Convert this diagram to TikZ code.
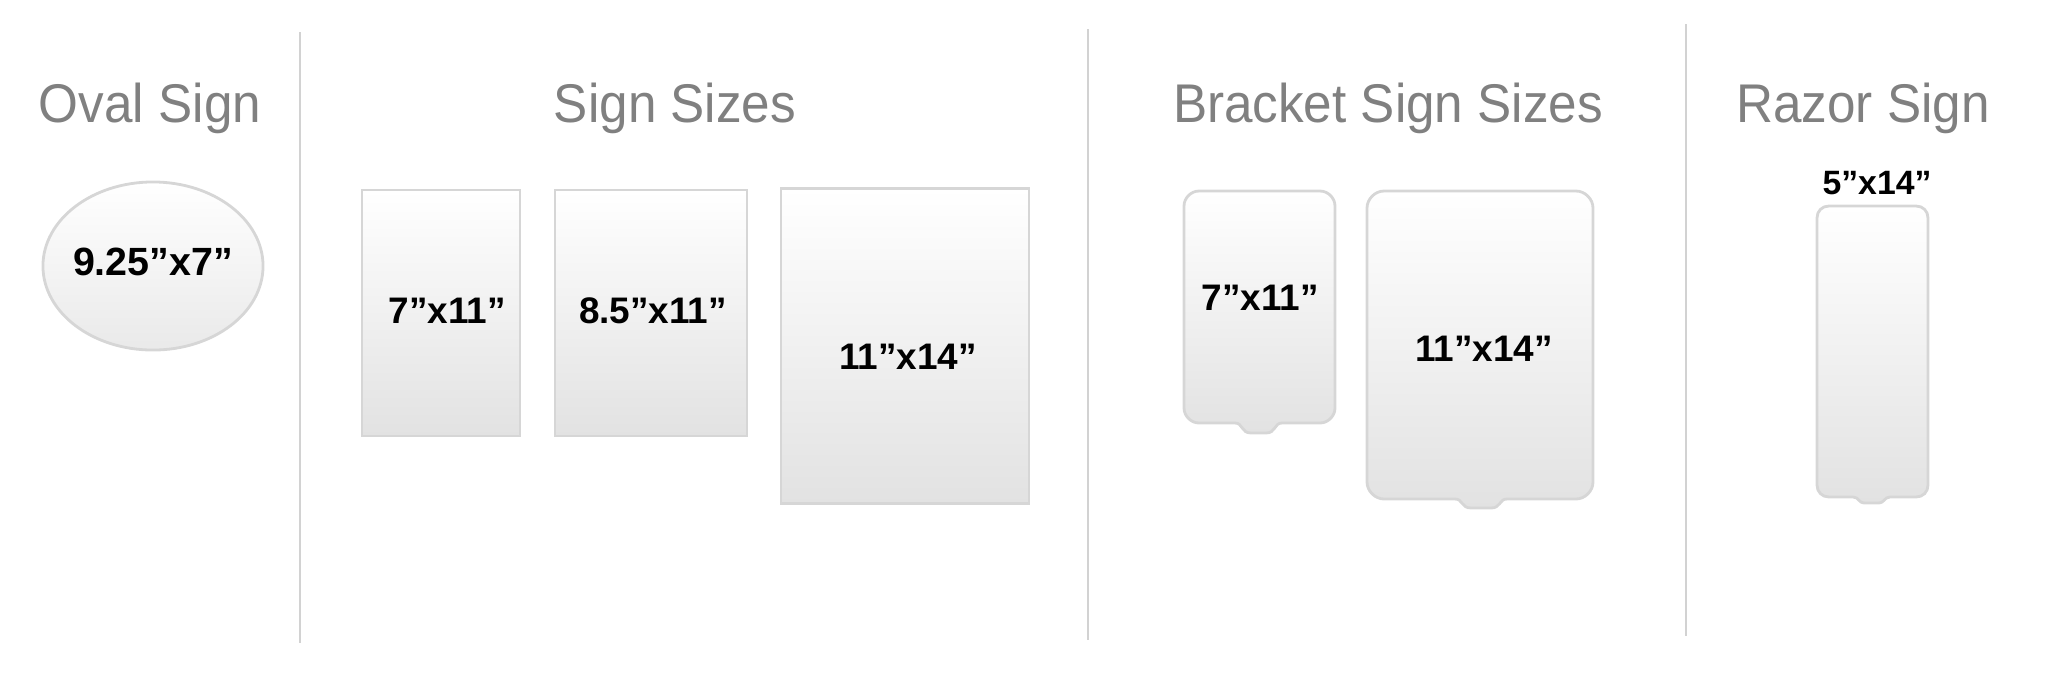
\documentclass[tikz,border=0pt]{standalone}
\usepackage{fontspec}
\usepackage{tikz}
\usetikzlibrary{shapes.geometric}
\setmainfont{Liberation Sans}
\newfontfamily\titlefont[FakeStretch=0.94]{Liberation Sans}
\definecolor{titlegray}{HTML}{808080}
\definecolor{signline}{HTML}{D6D6D6}
\definecolor{signfill}{HTML}{E2E2E2}
\definecolor{rulegray}{HTML}{D2D2D2}

\tikzset{
  signbox/.style={draw=signline, line width=.8pt, top color=white, bottom color=signfill},
  signtitle/.style={font=\titlefont\fontsize{15.5}{17}\selectfont, text=titlegray, anchor=base},
  signlabel/.style={font=\bfseries\fontsize{10.5}{12}\selectfont},
  divider/.style={draw=rulegray, line width=.6pt}
}

\begin{document}
\begin{tikzpicture}[x=0.01cm,y=-0.01cm]
\useasboundingbox (0,0) rectangle (2048,675);

\draw[divider] (300,32) -- (300,643);
\draw[divider] (1088,29) -- (1088,640);
\draw[divider] (1686,24) -- (1686,636);

\node[signtitle] (ovaltitle) at (150,122) {Oval Sign};
\node[signtitle] (sizestitle) at (675,122) {Sign Sizes};
\node[signtitle] (brackettitle) at (1388,122) {Bracket Sign Sizes};
\node[signtitle] (razortitle) at (1863,122) {Razor Sign};

\node[signbox, bottom color=signfill!75, ellipse, inner sep=0pt, minimum width=2.2cm, minimum height=1.68cm] (oval) at (153,266) {};
\node[signlabel, font=\bfseries\fontsize{11.2}{12}\selectfont] (ovallabel) at (153,262) {9.25”x7”};

\node[signbox, inner sep=0pt, minimum width=1.58cm, minimum height=2.46cm] (sevenbox) at (441,313) {};
\node[signbox, inner sep=0pt, minimum width=1.92cm, minimum height=2.46cm] (eightbox) at (651,313) {};
\node[signbox, inner sep=0pt, minimum width=2.48cm, minimum height=3.15cm] (elevenbox) at (905,346) {};
\node[signlabel] (sevenlabel) at (447,311) {7”x11”};
\node[signlabel] (eightlabel) at (653,311) {8.5”x11”};
\node[signlabel] (elevenlabel) at (908,357) {11”x14”};

\draw[signbox] (1199,191) -- (1320,191) .. controls (1328,191) and (1335,198) .. (1335,206) -- (1335,408)
  .. controls (1335,416) and (1328,423) .. (1320,423) -- (1282,423) .. controls (1274,423) and (1276,433) .. (1266,433)
  -- (1251,433) .. controls (1241,433) and (1243,423) .. (1235,423) -- (1199,423)
  .. controls (1191,423) and (1184,416) .. (1184,408) -- (1184,206) .. controls (1184,198) and (1191,191) .. (1199,191) -- cycle;
\draw[signbox] (1384,191) -- (1576,191) .. controls (1585,191) and (1593,199) .. (1593,208) -- (1593,482)
  .. controls (1593,491) and (1585,499) .. (1576,499) -- (1507,499) .. controls (1499,499) and (1501,508) .. (1491,508)
  -- (1471,508) .. controls (1461,508) and (1463,499) .. (1455,499) -- (1384,499)
  .. controls (1375,499) and (1367,491) .. (1367,482) -- (1367,208) .. controls (1367,199) and (1375,191) .. (1384,191) -- cycle;
\node[signlabel] (bsevenlabel) at (1260,298) {7”x11”};
\node[signlabel] (belevenlabel) at (1484,349) {11”x14”};

\draw[signbox] (1829,206) -- (1916,206) .. controls (1923,206) and (1928,211) .. (1928,218) -- (1928,485)
  .. controls (1928,492) and (1923,497) .. (1916,497) -- (1890,497) .. controls (1884,497) and (1885,503) .. (1878,503)
  -- (1865,503) .. controls (1858,503) and (1859,497) .. (1853,497) -- (1829,497)
  .. controls (1822,497) and (1817,492) .. (1817,485) -- (1817,218) .. controls (1817,211) and (1822,206) .. (1829,206) -- cycle;
\node[signlabel, font=\bfseries\fontsize{9.6}{11}\selectfont] (razorlabel) at (1877,183) {5”x14”};
\end{tikzpicture}
\end{document}
